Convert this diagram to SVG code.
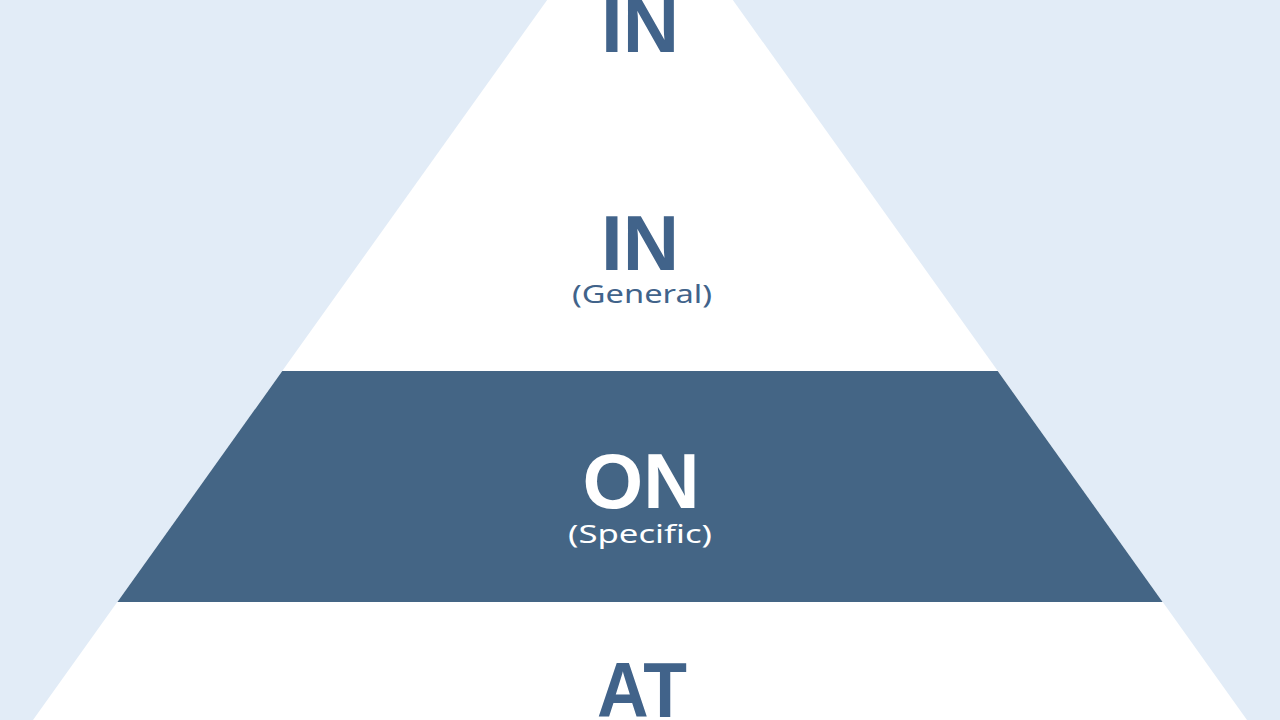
<svg xmlns="http://www.w3.org/2000/svg" width="1280" height="720" viewBox="0 0 1280 720">
  <style>
    .big { font-family: "Liberation Sans", Arial, sans-serif; font-weight: bold; font-size: 78px; text-anchor: middle; }
    .sub { font-family: "Noto Sans", "Liberation Sans", Arial, sans-serif; font-weight: normal; font-size: 26px; text-anchor: middle; }
    .dark { fill: #41638a; }
    .light { fill: #ffffff; }
  </style>
  <rect x="0" y="0" width="1280" height="720" fill="#e2ecf7"/>
  <g id="pyramid">
    <polygon points="640,-130 1247,720 33,720" fill="#ffffff"/>
  </g>
  <g id="tier-on">
    <polygon points="282.3,371 997.7,371 1162.6,602 117.4,602" fill="#446585"/>
    <text class="big light" x="641" y="508">ON</text>
    <text class="sub light" x="640" y="543" textLength="144" lengthAdjust="spacingAndGlyphs">(Specific)</text>
  </g>
  <g id="tier-in-top">
    <text class="big dark" x="640" y="52">IN</text>
  </g>
  <g id="tier-in-general">
    <text class="big dark" x="640" y="270">IN</text>
    <text class="sub dark" x="642" y="303" textLength="140" lengthAdjust="spacingAndGlyphs">(General)</text>
  </g>
  <g id="tier-at">
    <text class="big dark" x="642" y="717" textLength="90" lengthAdjust="spacingAndGlyphs">AT</text>
  </g>
  <g id="connectors"/>
</svg>
